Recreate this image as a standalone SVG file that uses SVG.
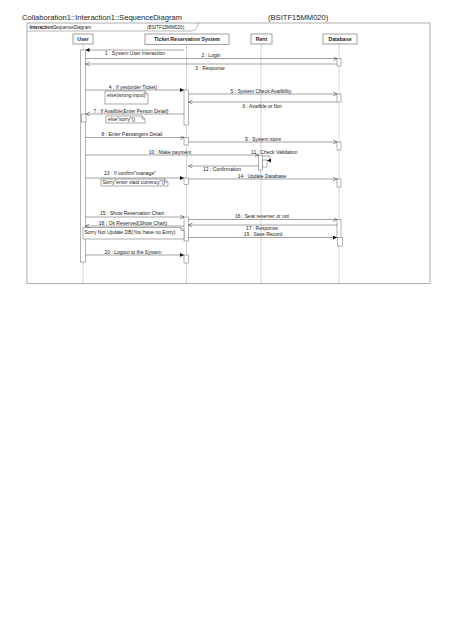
<svg xmlns="http://www.w3.org/2000/svg" width="453" height="640" viewBox="0 0 453 640">
<style>
text{font-family:"Liberation Sans",Arial,sans-serif;fill:#222}
.t{font-size:7.6px}
.l{font-size:5px}
.lc{font-size:5px;text-anchor:middle}
.hd{font-size:5.2px;font-weight:bold;text-anchor:middle}
.msg{stroke:#444;stroke-width:0.5;fill:none}
.life{stroke:#aaa;stroke-width:0.5}
.act{fill:#fff;stroke:#666;stroke-width:0.5}
.head{fill:#fff;stroke:#777;stroke-width:0.7}
.note{fill:#fff;stroke:#555;stroke-width:0.5}
</style>
<defs>
<marker id="f" markerUnits="userSpaceOnUse" markerWidth="5" markerHeight="4" refX="4" refY="2" orient="auto"><path d="M0,0 L4,2 L0,4 z" fill="#111"/></marker>
<marker id="o" markerUnits="userSpaceOnUse" markerWidth="5" markerHeight="5" refX="4" refY="2" orient="auto"><path d="M0,0 L4,2 L0,4" fill="none" stroke="#333" stroke-width="0.5"/></marker>
</defs>
<rect width="453" height="640" fill="#fff"/>
<text class="t" x="22" y="20">Collaboration1::Interaction1::SequenceDiagram</text>
<text class="t" x="268" y="20">(BSITF15MM020)</text>
<g id="frame">
<rect x="27" y="23" width="403" height="260.5" fill="none" stroke="#999" stroke-width="0.8"/>
<path d="M27,31 H192 Q197,30 198.5,23" fill="none" stroke="#888" stroke-width="0.6"/>
<text x="29.5" y="28.5" style="font-size:4.6px"><tspan font-weight="bold">Interaction</tspan>SequenceDiagram</text>
<text x="147" y="28.5" style="font-size:4.7px">(BSITF15MM020)</text>
</g>
<g id="lifelines">
<line class="life" x1="83" y1="44" x2="83" y2="284"/>
<line class="life" x1="186.5" y1="45" x2="186.5" y2="284"/>
<line class="life" x1="261" y1="44" x2="261" y2="284"/>
<line class="life" x1="339" y1="44" x2="339" y2="284"/>
</g>
<g id="user"><rect class="head" x="73" y="34" width="20" height="10"/><text class="hd" x="83" y="40.8">User</text></g>
<g id="trs"><rect class="head" x="145" y="34" width="84" height="10.5"/><text class="hd" x="187" y="41">Ticket Reservation System</text></g>
<g id="rent"><rect class="head" x="251" y="34" width="21" height="10"/><text class="hd" x="261.5" y="40.8">Rent</text></g>
<g id="database"><rect class="head" x="323" y="34" width="34" height="10"/><text class="hd" x="340" y="40.8">Database</text></g>
<g id="activations">
<rect class="act" x="80.5" y="50" width="5" height="212"/>
<rect class="act" x="81.5" y="114" width="4.5" height="8"/>
<rect class="act" x="184" y="90" width="4.5" height="35"/>
<rect class="act" x="184" y="137.5" width="4.5" height="7.5"/>
<rect class="act" x="184" y="178" width="4.5" height="6.5"/>
<rect class="act" x="184" y="217" width="4.5" height="24"/>
<rect class="act" x="184" y="255" width="4.5" height="8"/>
<rect class="act" x="258.5" y="155" width="4" height="15"/>
<rect class="act" x="262.5" y="160" width="4.5" height="7"/>
<rect class="act" x="337" y="58.5" width="4" height="7.5"/>
<rect class="act" x="337" y="94" width="4" height="8"/>
<rect class="act" x="337" y="142" width="4" height="8"/>
<rect class="act" x="337" y="179" width="4" height="8"/>
<rect class="act" x="337" y="219.5" width="4" height="18"/>
<rect class="act" x="337.5" y="237.5" width="5" height="8.5"/>
</g>
<g id="notes">
<path class="note" d="M105,91 H145 L148,94 V104 H105 Z M145,91 V94 H148"/>
<text class="l" x="107" y="96.5">else(wrong input)</text>
<path class="note" d="M106,116 H142 L145,119 V123 H106 Z M142,116 V119 H145"/>
<text class="l" x="108" y="121">else"sorry"()</text>
<path class="note" d="M101,179 H165 L168,182 V186 H101 Z M165,179 V182 H168"/>
<text class="l" x="102.5" y="184">Sorry"enter vlaid currency"()</text>
<path class="note" d="M83,227.5 H181 L184,230.5 V239 H83 Z M181,227.5 V230.5 H184"/>
<text class="l" x="84.5" y="233.5">Sorry Not Update DB(You have no Entry)</text>
</g>
<g id="connectors">
<line class="msg" x1="184" y1="50" x2="85.5" y2="50" marker-end="url(#f)"/>
<line class="msg" x1="85.5" y1="58.5" x2="337" y2="58.5" marker-end="url(#o)"/>
<line class="msg" x1="337" y1="64" x2="85.5" y2="64" marker-end="url(#o)"/>
<line class="msg" x1="85.5" y1="90" x2="184" y2="90" marker-end="url(#f)"/>
<line class="msg" x1="188.5" y1="94" x2="337" y2="94" marker-end="url(#o)"/>
<line class="msg" x1="337" y1="102" x2="188.5" y2="102" marker-end="url(#o)"/>
<line class="msg" x1="184" y1="114" x2="86" y2="114" marker-end="url(#o)"/>
<line class="msg" x1="85.5" y1="137.5" x2="184" y2="137.5" marker-end="url(#o)"/>
<line class="msg" x1="188.5" y1="142" x2="337" y2="142" marker-end="url(#o)"/>
<line class="msg" x1="85.5" y1="155" x2="258.5" y2="155" marker-end="url(#o)"/>
<path class="msg" d="M262.5,156 H270 V160.5 H267" marker-end="url(#f)"/>
<line class="msg" x1="258.5" y1="166" x2="188.5" y2="166" marker-end="url(#o)"/>
<line class="msg" x1="85.5" y1="178" x2="184" y2="178" marker-end="url(#f)"/>
<line class="msg" x1="188.5" y1="179" x2="337" y2="179" marker-end="url(#o)"/>
<line class="msg" x1="85.5" y1="217" x2="184" y2="217" marker-end="url(#o)"/>
<line class="msg" x1="188.5" y1="219.5" x2="337" y2="219.5" marker-end="url(#o)"/>
<line class="msg" x1="337" y1="225" x2="188.5" y2="225" marker-end="url(#o)"/>
<line class="msg" x1="184" y1="226" x2="85.5" y2="226" marker-end="url(#o)"/>
<line class="msg" x1="188.5" y1="237.5" x2="337" y2="237.5" marker-end="url(#f)"/>
<line class="msg" x1="85.5" y1="255" x2="184" y2="255" marker-end="url(#f)"/>
</g>
<g id="labels">
<text class="lc" x="135" y="54.5">1 : System User Interaction</text>
<text class="lc" x="211" y="56.5">2 : Login</text>
<text class="lc" x="210" y="69.5">3 : Response</text>
<text class="lc" x="133" y="88.5">4 : If yes(order Ticket)</text>
<text class="lc" x="261" y="92.5">5 : System Check Availbility</text>
<text class="lc" x="262" y="107.5">6 : Availble or Not</text>
<text class="lc" x="131" y="112.5">7 : If Availble(Enter Person Detail)</text>
<text class="lc" x="132" y="135.5">8 : Enter Passangers Detail</text>
<text class="lc" x="263" y="140.5">9 : System store</text>
<text class="lc" x="170" y="153.5">10 : Make payment</text>
<text class="l" x="251" y="153.5">11 : Check Validation</text>
<text class="lc" x="222" y="170.5">12 : Confirmation</text>
<text class="lc" x="130" y="174.5">13 : If confirm"manage"</text>
<text class="lc" x="262" y="177.5">14 : Update Database</text>
<text class="lc" x="132" y="215">15 : Show Reservation Chart</text>
<text class="lc" x="262" y="217.5">16 : Seat reserver or not</text>
<text class="lc" x="262" y="229.5">17 : Response</text>
<text class="lc" x="133" y="225">18 : Ok Reserved(Show Chart)</text>
<text class="lc" x="263" y="236">19 : Save Record</text>
<text class="lc" x="133" y="253.5">20 : Logout to the System</text>
</g>
</svg>
